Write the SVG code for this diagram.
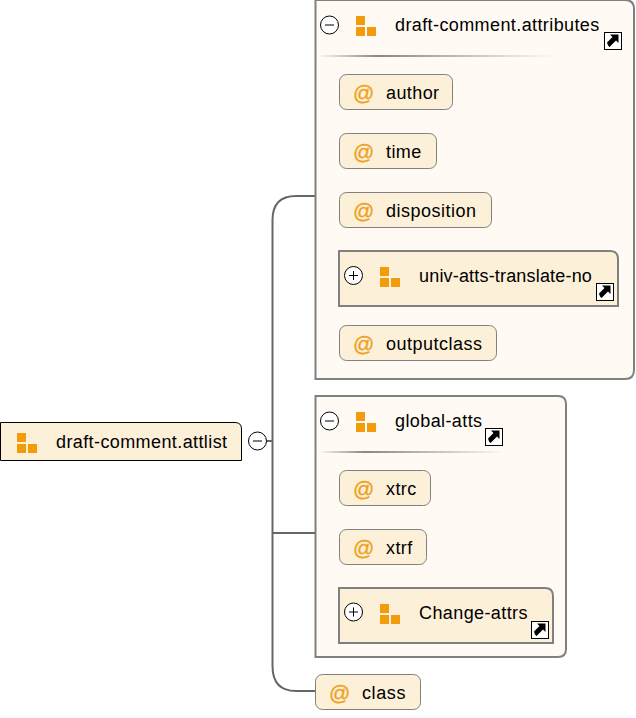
<svg xmlns="http://www.w3.org/2000/svg" width="636" height="718" viewBox="0 0 636 718">
<defs>
<linearGradient id="sep"><stop offset="0" stop-color="#fffaf3"/><stop offset="0.25" stop-color="#8c8880"/><stop offset="1" stop-color="#fffaf3"/></linearGradient>
<g id="ico"><rect x="0" y="0" width="9" height="9"/><rect x="0" y="11" width="9" height="9"/><rect x="11" y="11" width="9" height="9"/></g>
<g id="lnk"><rect x="0.5" y="0.5" width="17" height="17" fill="#fff" stroke="#000"/><path d="M4 14.500 L5.500 16 L12 9.500 L14.500 12 V3.500 H6 L8.500 6 L3 11.500Z" fill="#000" transform="translate(0,-1)"/></g>
</defs>
<style>
text{font-family:"Liberation Sans",Arial,sans-serif;font-size:18px;letter-spacing:0.4px;fill:#000}
.at{font-size:21px;letter-spacing:0;fill:#eea020;stroke:#eea020;stroke-width:0.3}
.i{fill:#f29c0c}
.c{fill:#fffaf3;stroke:#808080;stroke-width:2}
.b{fill:#fdf0d8;stroke:#808080;stroke-width:1}
.g{fill:#fdf0d8;stroke:#808080;stroke-width:2}
.t{fill:#fff;stroke:#000;stroke-width:1}
.s{stroke:#000;stroke-width:1;fill:none}
.l{fill:none;stroke:#666;stroke-width:2}
</style>
<g id="connectors">
<path class="l" d="M315 196H296Q272.500 196 272.500 220V666Q272.500 691 296 691H315"/>
<path class="l" d="M272.500 533H315"/>
<path class="l" d="M267 441H272"/>
</g>
<g id="draft-comment-attlist">
<path d="M0.500 422.500H235Q241.500 422.500 241.500 429V460.500H0.500Z" fill="#fdf0d8" stroke="#000"/>
<use href="#ico" class="i" x="17" y="433"/>
<text x="56" y="448">draft-comment.attlist</text>
<circle class="t" cx="257.500" cy="441" r="9"/><path class="s" d="M253 441H262"/>
</g>
<g id="draft-comment-attributes">
<path class="c" d="M315.500 0H625Q634 0 634 9V370Q634 379 625 379H315.500Z"/>
<circle class="t" cx="329.500" cy="25" r="9"/><path class="s" d="M325 25H334"/>
<use href="#ico" class="i" x="356" y="16"/>
<text x="395" y="31">draft-comment.attributes</text>
<use href="#lnk" x="604" y="32"/>
<rect x="318" y="55" width="236" height="2" fill="url(#sep)"/>
</g>
<g id="author"><rect class="b" x="339.500" y="74.500" width="113" height="35" rx="7"/><text class="at" x="353" y="100">@</text><text x="386" y="99">author</text></g>
<g id="time"><rect class="b" x="339.500" y="133.500" width="97" height="35" rx="7"/><text class="at" x="353" y="159">@</text><text x="386" y="158">time</text></g>
<g id="disposition"><rect class="b" x="339.500" y="192.500" width="152" height="35" rx="7"/><text class="at" x="353" y="218">@</text><text x="386" y="217" style="letter-spacing:.5px">disposition</text></g>
<g id="univ-atts-translate-no">
<path class="g" d="M339 251H610Q618 251 618 259V306H339Z"/>
<circle class="t" cx="353.500" cy="275.500" r="9"/><path class="s" d="M349 275.500H358M353.500 271V280"/>
<use href="#ico" class="i" x="380" y="267"/>
<text x="419" y="282" style="letter-spacing:.18px">univ-atts-translate-no</text>
<use href="#lnk" x="596" y="283"/>
</g>
<g id="outputclass"><rect class="b" x="339.500" y="325.500" width="157" height="35" rx="7"/><text class="at" x="353" y="351">@</text><text x="386" y="350" style="letter-spacing:.5px">outputclass</text></g>
<g id="global-atts">
<path class="c" d="M315.500 396H558Q566 396 566 404V649Q566 657 558 657H315.500Z"/>
<circle class="t" cx="329.500" cy="421" r="9"/><path class="s" d="M325 421H334"/>
<use href="#ico" class="i" x="356" y="412"/>
<text x="395" y="427">global-atts</text>
<use href="#lnk" x="485" y="428"/>
<rect x="318" y="451" width="187" height="2" fill="url(#sep)"/>
</g>
<g id="xtrc"><rect class="b" x="339.500" y="470.500" width="91" height="35" rx="7"/><text class="at" x="353" y="496">@</text><text x="386" y="495">xtrc</text></g>
<g id="xtrf"><rect class="b" x="339.500" y="529.500" width="87" height="35" rx="7"/><text class="at" x="353" y="555">@</text><text x="386" y="554">xtrf</text></g>
<g id="Change-attrs">
<path class="g" d="M339 588H545Q553 588 553 596V643H339Z"/>
<circle class="t" cx="353.500" cy="612" r="9"/><path class="s" d="M349 612H358M353.500 607.500V616.500"/>
<use href="#ico" class="i" x="380" y="604"/>
<text x="419" y="619">Change-attrs</text>
<use href="#lnk" x="531" y="621"/>
</g>
<g id="class"><rect class="b" x="315.500" y="674.500" width="105" height="35" rx="7"/><text class="at" x="329" y="700">@</text><text x="362" y="699" style="letter-spacing:.6px">class</text></g>
</svg>
